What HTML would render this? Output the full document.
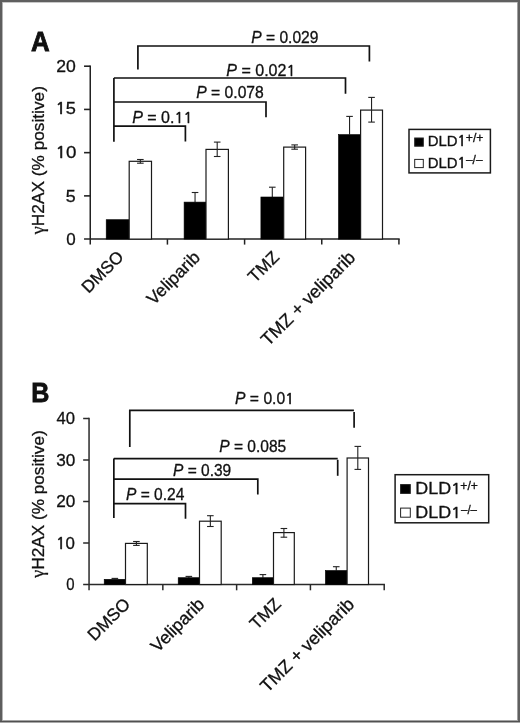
<!DOCTYPE html>
<html><head><meta charset="utf-8"><style>
html,body{margin:0;padding:0;background:#fff;}
body{width:520px;height:723px;overflow:hidden;position:relative;}
svg{position:absolute;left:0;top:0;}
text{font-family:"Liberation Sans", Arial, sans-serif;fill:#111;stroke:#111;stroke-width:0.3px;}
</style></head><body>
<svg width="520" height="723" viewBox="0 0 520 723">
<line x1="90.25" y1="65.45" x2="90.25" y2="244.60" stroke="#222" stroke-width="1.5" stroke-linecap="butt"/>
<line x1="84.05" y1="195.88" x2="90.25" y2="195.88" stroke="#222" stroke-width="1.6" stroke-linecap="butt"/>
<line x1="84.05" y1="152.65" x2="90.25" y2="152.65" stroke="#222" stroke-width="1.6" stroke-linecap="butt"/>
<line x1="84.05" y1="109.43" x2="90.25" y2="109.43" stroke="#222" stroke-width="1.6" stroke-linecap="butt"/>
<line x1="84.05" y1="66.20" x2="90.25" y2="66.20" stroke="#222" stroke-width="1.6" stroke-linecap="butt"/>
<line x1="84.05" y1="239.10" x2="399.68" y2="239.10" stroke="#222" stroke-width="1.5" stroke-linecap="butt"/>
<line x1="167.42" y1="239.10" x2="167.42" y2="244.60" stroke="#222" stroke-width="1.5" stroke-linecap="butt"/>
<line x1="244.59" y1="239.10" x2="244.59" y2="244.60" stroke="#222" stroke-width="1.5" stroke-linecap="butt"/>
<line x1="321.76" y1="239.10" x2="321.76" y2="244.60" stroke="#222" stroke-width="1.5" stroke-linecap="butt"/>
<line x1="398.93" y1="239.10" x2="398.93" y2="244.60" stroke="#222" stroke-width="1.5" stroke-linecap="butt"/>
<rect x="106.20" y="219.70" width="23.00" height="19.40" fill="#000" stroke="#000" stroke-width="0.6"/>
<rect x="129.20" y="161.30" width="22.30" height="77.80" fill="#fff" stroke="#1a1a1a" stroke-width="1.2"/>
<line x1="140.35" y1="159.50" x2="140.35" y2="163.20" stroke="#222" stroke-width="1.1" stroke-linecap="butt"/>
<line x1="137.05" y1="159.50" x2="143.65" y2="159.50" stroke="#222" stroke-width="1.1" stroke-linecap="butt"/>
<line x1="137.05" y1="163.20" x2="143.65" y2="163.20" stroke="#222" stroke-width="1.1" stroke-linecap="butt"/>
<line x1="195.05" y1="192.50" x2="195.05" y2="202.10" stroke="#222" stroke-width="1.1" stroke-linecap="butt"/>
<line x1="191.75" y1="192.50" x2="198.35" y2="192.50" stroke="#222" stroke-width="1.1" stroke-linecap="butt"/>
<rect x="184.10" y="202.10" width="21.90" height="37.00" fill="#000" stroke="#000" stroke-width="0.6"/>
<rect x="206.00" y="149.40" width="22.40" height="89.70" fill="#fff" stroke="#1a1a1a" stroke-width="1.2"/>
<line x1="217.20" y1="142.10" x2="217.20" y2="156.50" stroke="#222" stroke-width="1.1" stroke-linecap="butt"/>
<line x1="213.90" y1="142.10" x2="220.50" y2="142.10" stroke="#222" stroke-width="1.1" stroke-linecap="butt"/>
<line x1="213.90" y1="156.50" x2="220.50" y2="156.50" stroke="#222" stroke-width="1.1" stroke-linecap="butt"/>
<line x1="272.30" y1="187.20" x2="272.30" y2="197.00" stroke="#222" stroke-width="1.1" stroke-linecap="butt"/>
<line x1="269.00" y1="187.20" x2="275.60" y2="187.20" stroke="#222" stroke-width="1.1" stroke-linecap="butt"/>
<rect x="260.90" y="197.00" width="22.80" height="42.10" fill="#000" stroke="#000" stroke-width="0.6"/>
<rect x="283.70" y="147.10" width="21.90" height="92.00" fill="#fff" stroke="#1a1a1a" stroke-width="1.2"/>
<line x1="294.65" y1="144.90" x2="294.65" y2="149.20" stroke="#222" stroke-width="1.1" stroke-linecap="butt"/>
<line x1="291.35" y1="144.90" x2="297.95" y2="144.90" stroke="#222" stroke-width="1.1" stroke-linecap="butt"/>
<line x1="291.35" y1="149.20" x2="297.95" y2="149.20" stroke="#222" stroke-width="1.1" stroke-linecap="butt"/>
<line x1="349.55" y1="116.40" x2="349.55" y2="134.60" stroke="#222" stroke-width="1.1" stroke-linecap="butt"/>
<line x1="346.25" y1="116.40" x2="352.85" y2="116.40" stroke="#222" stroke-width="1.1" stroke-linecap="butt"/>
<rect x="338.50" y="134.60" width="22.10" height="104.50" fill="#000" stroke="#000" stroke-width="0.6"/>
<rect x="360.60" y="110.10" width="21.90" height="129.00" fill="#fff" stroke="#1a1a1a" stroke-width="1.2"/>
<line x1="371.55" y1="97.40" x2="371.55" y2="122.10" stroke="#222" stroke-width="1.1" stroke-linecap="butt"/>
<line x1="368.25" y1="97.40" x2="374.85" y2="97.40" stroke="#222" stroke-width="1.1" stroke-linecap="butt"/>
<line x1="368.25" y1="122.10" x2="374.85" y2="122.10" stroke="#222" stroke-width="1.1" stroke-linecap="butt"/>
<polyline points="137.90,69.60 137.90,46.00 369.40,46.00 369.40,61.40" fill="none" stroke="#111" stroke-width="1.7"/>
<polyline points="113.90,78.00 113.90,78.00 345.50,78.00 345.50,93.80" fill="none" stroke="#111" stroke-width="1.7"/>
<polyline points="113.90,102.00 113.90,102.00 266.00,102.00 266.00,117.30" fill="none" stroke="#111" stroke-width="1.7"/>
<polyline points="113.90,126.10 113.90,126.10 185.40,126.10 185.40,141.60" fill="none" stroke="#111" stroke-width="1.7"/>
<line x1="113.90" y1="78.00" x2="113.90" y2="141.70" stroke="#111" stroke-width="1.7" stroke-linecap="butt"/>
<rect x="409.00" y="129.40" width="81.40" height="43.50" fill="#fff" stroke="#1a1a1a" stroke-width="1.5"/>
<rect x="414.70" y="138.00" width="8.60" height="8.20" fill="#000" stroke="#222" stroke-width="1.0"/>
<rect x="414.70" y="159.40" width="8.60" height="8.20" fill="#fff" stroke="#222" stroke-width="1.0"/>
<line x1="89.05" y1="417.75" x2="89.05" y2="590.30" stroke="#2a2a2a" stroke-width="1.5" stroke-linecap="butt"/>
<line x1="83.15" y1="543.00" x2="89.05" y2="543.00" stroke="#2a2a2a" stroke-width="1.5" stroke-linecap="butt"/>
<line x1="83.15" y1="501.50" x2="89.05" y2="501.50" stroke="#2a2a2a" stroke-width="1.5" stroke-linecap="butt"/>
<line x1="83.15" y1="460.00" x2="89.05" y2="460.00" stroke="#2a2a2a" stroke-width="1.5" stroke-linecap="butt"/>
<line x1="83.15" y1="418.50" x2="89.05" y2="418.50" stroke="#2a2a2a" stroke-width="1.5" stroke-linecap="butt"/>
<line x1="83.15" y1="584.50" x2="384.96" y2="584.50" stroke="#2a2a2a" stroke-width="1.5" stroke-linecap="butt"/>
<line x1="162.84" y1="584.50" x2="162.84" y2="590.30" stroke="#2a2a2a" stroke-width="1.5" stroke-linecap="butt"/>
<line x1="236.63" y1="584.50" x2="236.63" y2="590.30" stroke="#2a2a2a" stroke-width="1.5" stroke-linecap="butt"/>
<line x1="310.42" y1="584.50" x2="310.42" y2="590.30" stroke="#2a2a2a" stroke-width="1.5" stroke-linecap="butt"/>
<line x1="384.21" y1="584.50" x2="384.21" y2="590.30" stroke="#2a2a2a" stroke-width="1.5" stroke-linecap="butt"/>
<line x1="114.85" y1="578.40" x2="114.85" y2="579.30" stroke="#222" stroke-width="1.1" stroke-linecap="butt"/>
<line x1="111.55" y1="578.40" x2="118.15" y2="578.40" stroke="#222" stroke-width="1.1" stroke-linecap="butt"/>
<rect x="104.20" y="579.30" width="21.30" height="5.20" fill="#000" stroke="#000" stroke-width="0.6"/>
<rect x="125.50" y="543.40" width="21.80" height="41.10" fill="#fff" stroke="#1a1a1a" stroke-width="1.2"/>
<line x1="136.40" y1="541.50" x2="136.40" y2="545.40" stroke="#222" stroke-width="1.1" stroke-linecap="butt"/>
<line x1="133.10" y1="541.50" x2="139.70" y2="541.50" stroke="#222" stroke-width="1.1" stroke-linecap="butt"/>
<line x1="133.10" y1="545.40" x2="139.70" y2="545.40" stroke="#222" stroke-width="1.1" stroke-linecap="butt"/>
<line x1="188.85" y1="576.40" x2="188.85" y2="577.70" stroke="#222" stroke-width="1.1" stroke-linecap="butt"/>
<line x1="185.55" y1="576.40" x2="192.15" y2="576.40" stroke="#222" stroke-width="1.1" stroke-linecap="butt"/>
<rect x="178.20" y="577.70" width="21.30" height="6.80" fill="#000" stroke="#000" stroke-width="0.6"/>
<rect x="199.50" y="521.20" width="21.70" height="63.30" fill="#fff" stroke="#1a1a1a" stroke-width="1.2"/>
<line x1="210.35" y1="515.70" x2="210.35" y2="526.50" stroke="#222" stroke-width="1.1" stroke-linecap="butt"/>
<line x1="207.05" y1="515.70" x2="213.65" y2="515.70" stroke="#222" stroke-width="1.1" stroke-linecap="butt"/>
<line x1="207.05" y1="526.50" x2="213.65" y2="526.50" stroke="#222" stroke-width="1.1" stroke-linecap="butt"/>
<line x1="262.90" y1="574.60" x2="262.90" y2="577.70" stroke="#222" stroke-width="1.1" stroke-linecap="butt"/>
<line x1="259.60" y1="574.60" x2="266.20" y2="574.60" stroke="#222" stroke-width="1.1" stroke-linecap="butt"/>
<rect x="252.30" y="577.70" width="21.20" height="6.80" fill="#000" stroke="#000" stroke-width="0.6"/>
<rect x="273.50" y="532.60" width="20.80" height="51.90" fill="#fff" stroke="#1a1a1a" stroke-width="1.2"/>
<line x1="283.90" y1="528.50" x2="283.90" y2="537.20" stroke="#222" stroke-width="1.1" stroke-linecap="butt"/>
<line x1="280.60" y1="528.50" x2="287.20" y2="528.50" stroke="#222" stroke-width="1.1" stroke-linecap="butt"/>
<line x1="280.60" y1="537.20" x2="287.20" y2="537.20" stroke="#222" stroke-width="1.1" stroke-linecap="butt"/>
<line x1="336.25" y1="566.70" x2="336.25" y2="570.50" stroke="#222" stroke-width="1.1" stroke-linecap="butt"/>
<line x1="332.95" y1="566.70" x2="339.55" y2="566.70" stroke="#222" stroke-width="1.1" stroke-linecap="butt"/>
<rect x="325.40" y="570.50" width="21.70" height="14.00" fill="#000" stroke="#000" stroke-width="0.6"/>
<rect x="347.10" y="458.00" width="21.40" height="126.50" fill="#fff" stroke="#1a1a1a" stroke-width="1.2"/>
<line x1="357.80" y1="446.40" x2="357.80" y2="469.40" stroke="#222" stroke-width="1.1" stroke-linecap="butt"/>
<line x1="354.50" y1="446.40" x2="361.10" y2="446.40" stroke="#222" stroke-width="1.1" stroke-linecap="butt"/>
<line x1="354.50" y1="469.40" x2="361.10" y2="469.40" stroke="#222" stroke-width="1.1" stroke-linecap="butt"/>
<polyline points="129.80,447.00 129.80,410.30 353.90,410.30 353.90,410.30" fill="none" stroke="#111" stroke-width="1.7"/>
<polyline points="113.85,458.60 113.85,458.60 337.70,458.60 337.70,458.60" fill="none" stroke="#111" stroke-width="1.7"/>
<polyline points="113.85,479.10 113.85,479.10 257.80,479.10 257.80,494.50" fill="none" stroke="#111" stroke-width="1.7"/>
<polyline points="113.85,503.60 113.85,503.60 185.50,503.60 185.50,518.80" fill="none" stroke="#111" stroke-width="1.7"/>
<line x1="113.85" y1="458.60" x2="113.85" y2="518.00" stroke="#111" stroke-width="1.7" stroke-linecap="butt"/>
<line x1="354.10" y1="411.90" x2="354.10" y2="427.70" stroke="#111" stroke-width="1.7" stroke-linecap="butt"/>
<line x1="337.70" y1="459.80" x2="337.70" y2="475.80" stroke="#111" stroke-width="1.7" stroke-linecap="butt"/>
<rect x="395.10" y="474.70" width="93.60" height="48.10" fill="#fff" stroke="#1a1a1a" stroke-width="1.5"/>
<rect x="400.60" y="484.60" width="9.70" height="8.80" fill="#000" stroke="#222" stroke-width="1.0"/>
<rect x="400.60" y="508.10" width="9.70" height="9.10" fill="#fff" stroke="#222" stroke-width="1.0"/>
<text x="31.12" y="51.26" font-size="27.30" font-weight="bold" style="stroke-width:0.8px" textLength="18.69" lengthAdjust="spacingAndGlyphs">A</text>
<text x="31.25" y="401.58" font-size="27.80" font-weight="bold" style="stroke-width:0.8px" textLength="18.13" lengthAdjust="spacingAndGlyphs">B</text>
<text x="56.27" y="71.67" font-size="17.00" textLength="19.58" lengthAdjust="spacingAndGlyphs">20</text>
<text x="55.49" y="114.47" font-size="17.00" textLength="20.36" lengthAdjust="spacingAndGlyphs"><tspan font-family="NanumGothic, 'Liberation Sans', sans-serif" font-size="0.926em" style="stroke-width:0.65px">1</tspan>5</text>
<text x="55.57" y="158.46" font-size="17.00" textLength="20.94" lengthAdjust="spacingAndGlyphs"><tspan font-family="NanumGothic, 'Liberation Sans', sans-serif" font-size="0.926em" style="stroke-width:0.65px">1</tspan>0</text>
<text x="65.88" y="202.01" font-size="17.00" textLength="9.92" lengthAdjust="spacingAndGlyphs">5</text>
<text x="66.30" y="244.58" font-size="17.00" textLength="9.45" lengthAdjust="spacingAndGlyphs">0</text>
<text x="56.59" y="423.80" font-size="17.00" textLength="18.53" lengthAdjust="spacingAndGlyphs">40</text>
<text x="56.17" y="465.79" font-size="17.00" textLength="19.10" lengthAdjust="spacingAndGlyphs">30</text>
<text x="56.17" y="507.01" font-size="17.00" textLength="19.10" lengthAdjust="spacingAndGlyphs">20</text>
<text x="55.92" y="549.01" font-size="17.00" textLength="18.84" lengthAdjust="spacingAndGlyphs"><tspan font-family="NanumGothic, 'Liberation Sans', sans-serif" font-size="0.926em" style="stroke-width:0.65px">1</tspan>0</text>
<text x="66.30" y="590.42" font-size="17.00" textLength="8.30" lengthAdjust="spacingAndGlyphs">0</text>
<text x="251.32" y="42.58" font-size="15.60" textLength="67.13" lengthAdjust="spacingAndGlyphs"><tspan font-style="italic">P</tspan> = 0.029</text>
<text x="226.26" y="76.46" font-size="15.60" textLength="69.22" lengthAdjust="spacingAndGlyphs"><tspan font-style="italic">P</tspan> = 0.02<tspan font-family="NanumGothic, 'Liberation Sans', sans-serif" font-size="0.926em" style="stroke-width:0.65px">1</tspan></text>
<text x="196.27" y="98.34" font-size="15.60" textLength="67.53" lengthAdjust="spacingAndGlyphs"><tspan font-style="italic">P</tspan> = 0.078</text>
<text x="132.15" y="122.76" font-size="15.60" textLength="60.22" lengthAdjust="spacingAndGlyphs"><tspan font-style="italic">P</tspan> = 0.<tspan font-family="NanumGothic, 'Liberation Sans', sans-serif" font-size="0.926em" style="stroke-width:0.65px">1</tspan><tspan font-family="NanumGothic, 'Liberation Sans', sans-serif" font-size="0.926em" style="stroke-width:0.65px">1</tspan></text>
<text x="235.03" y="404.00" font-size="15.60" textLength="58.98" lengthAdjust="spacingAndGlyphs"><tspan font-style="italic">P</tspan> = 0.0<tspan font-family="NanumGothic, 'Liberation Sans', sans-serif" font-size="0.926em" style="stroke-width:0.65px">1</tspan></text>
<text x="219.24" y="451.69" font-size="15.60" textLength="66.99" lengthAdjust="spacingAndGlyphs"><tspan font-style="italic">P</tspan> = 0.085</text>
<text x="173.01" y="475.66" font-size="15.60" textLength="58.20" lengthAdjust="spacingAndGlyphs"><tspan font-style="italic">P</tspan> = 0.39</text>
<text x="125.99" y="499.66" font-size="15.60" textLength="58.31" lengthAdjust="spacingAndGlyphs"><tspan font-style="italic">P</tspan> = 0.24</text>
<text x="427.69" y="146.37" font-size="14.50" textLength="38.24" lengthAdjust="spacingAndGlyphs">DLD<tspan font-family="NanumGothic, 'Liberation Sans', sans-serif" font-size="0.926em" style="stroke-width:0.65px">1</tspan></text>
<text x="427.69" y="168.24" font-size="14.50" textLength="38.24" lengthAdjust="spacingAndGlyphs">DLD<tspan font-family="NanumGothic, 'Liberation Sans', sans-serif" font-size="0.926em" style="stroke-width:0.65px">1</tspan></text>
<text x="415.25" y="493.79" font-size="16.00" textLength="45.86" lengthAdjust="spacingAndGlyphs">DLD<tspan font-family="NanumGothic, 'Liberation Sans', sans-serif" font-size="0.926em" style="stroke-width:0.65px">1</tspan></text>
<text x="415.25" y="517.55" font-size="16.00" textLength="45.86" lengthAdjust="spacingAndGlyphs">DLD<tspan font-family="NanumGothic, 'Liberation Sans', sans-serif" font-size="0.926em" style="stroke-width:0.65px">1</tspan></text>
<text x="465.79" y="142.21" font-size="11.96" textLength="17.72" lengthAdjust="spacingAndGlyphs">+/+</text>
<text x="465.96" y="163.54" font-size="11.99" textLength="16.66" lengthAdjust="spacingAndGlyphs">&#8211;/&#8211;</text>
<text x="460.31" y="489.66" font-size="12.43" textLength="17.62" lengthAdjust="spacingAndGlyphs">+/+</text>
<text x="461.01" y="513.56" font-size="11.96" textLength="16.01" lengthAdjust="spacingAndGlyphs">&#8211;/&#8211;</text>
<text x="124.77" y="257.77" font-size="17.11" text-anchor="end" transform="rotate(-45 124.77 257.77)">DMSO</text>
<text x="201.06" y="258.51" font-size="17.41" text-anchor="end" transform="rotate(-45 201.06 258.51)">Veliparib</text>
<text x="280.33" y="258.16" font-size="17.46" text-anchor="end" transform="rotate(-45 280.33 258.16)">TMZ</text>
<text x="356.46" y="258.61" font-size="18.04" text-anchor="end" transform="rotate(-45 356.46 258.61)">TMZ + veliparib</text>
<text x="131.26" y="605.14" font-size="17.30" text-anchor="end" transform="rotate(-45 131.26 605.14)">DMSO</text>
<text x="205.55" y="605.29" font-size="17.63" text-anchor="end" transform="rotate(-45 205.55 605.29)">Veliparib</text>
<text x="281.92" y="605.31" font-size="17.39" text-anchor="end" transform="rotate(-45 281.92 605.31)">TMZ</text>
<text x="355.28" y="605.41" font-size="17.95" text-anchor="end" transform="rotate(-45 355.28 605.41)">TMZ + veliparib</text>
<text x="43.69" y="160.14" font-size="17.36" text-anchor="middle" transform="rotate(-90 43.69 160.14)" textLength="148.10" lengthAdjust="spacingAndGlyphs"><tspan font-family="'Liberation Serif', serif" font-size="1.05em">&#947;</tspan>H2AX (% positive)</text>
<text x="43.69" y="504.01" font-size="17.36" text-anchor="middle" transform="rotate(-90 43.69 504.01)" textLength="147.50" lengthAdjust="spacingAndGlyphs"><tspan font-family="'Liberation Serif', serif" font-size="1.05em">&#947;</tspan>H2AX (% positive)</text>
<g shape-rendering="crispEdges">
<rect x="0" y="0" width="520" height="2" fill="#5f5f5f"/>
<rect x="2" y="2" width="515" height="1" fill="#c8c8c8"/>
<rect x="0" y="0" width="2" height="723" fill="#5e5e5e"/>
<rect x="2" y="2" width="1" height="718" fill="#b4b4b4"/>
<rect x="518" y="0" width="2" height="723" fill="#606060"/>
<rect x="517" y="2" width="1" height="718" fill="#a0a0a0"/>
<rect x="2" y="720" width="516" height="1" fill="#a4a4a4"/>
<rect x="0" y="721" width="520" height="1" fill="#515151"/>
<rect x="0" y="722" width="520" height="1" fill="#a8a8a8"/>
</g>
</svg>
</body></html>
